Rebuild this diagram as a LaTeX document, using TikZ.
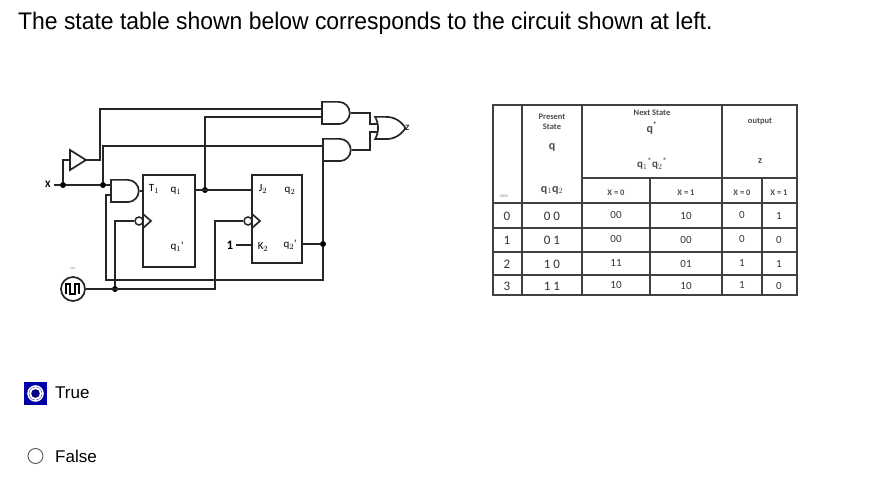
\documentclass[tikz,border=0pt]{standalone}
\usepackage{fontspec}
\setmainfont{Liberation Sans}
\newfontfamily\carl{Carlito}
\usetikzlibrary{shapes.gates.logic.US,calc}
\tikzset{w/.style={line width=1.7pt,draw=black!85},
 dot/.style={circle,fill=black,inner sep=0pt,minimum size=6pt},
 andg/.style={and gate US,draw=black!85,line width=1.7pt,minimum width=20pt,minimum height=22pt,inner sep=0pt,logic gate inputs=nn},
 org/.style={or gate US,draw=black!85,line width=1.7pt,minimum width=22pt,minimum height=22pt,inner sep=0pt,logic gate inputs=nn},
 lab/.style={font=\carl\fontsize{11}{12}\selectfont,inner sep=0pt},
 tl/.style={line width=2pt,draw=black!75},
 tx/.style={font=\carl\fontsize{11}{12}\selectfont,text=black!80,inner sep=0pt,align=center},
 tb/.style={font=\carl\bfseries\fontsize{8.5}{9.5}\selectfont,text=black!70,inner sep=0pt,align=center}}
\begin{document}
\begin{tikzpicture}[x=1pt,y=-1pt]
\useasboundingbox (0,0) rectangle (873,481);
\node[anchor=west,inner sep=0pt,font=\fontsize{24}{26}\selectfont,xscale=0.955] (title) at (18,23) {The state table shown below corresponds to the circuit shown at left.};
% gates
\node[andg] (a1) at (335,113) {};
\node[andg] (a2) at (336,150) {};
\node[org] (o1) at (388,128) {};
\node[lab,anchor=west] (z) at (405,128) {z};
\node[andg] (at) at (124,191) {};
\draw[w] (70,150) -- (70,170) -- (86,160) -- cycle;
\coordinate (bufin) at (70,160); \coordinate (bufout) at (86,160);
% FFs
\node[draw=black!85,line width=1.7pt,minimum width=52pt,minimum height=92pt,inner sep=0pt] (ff1) at (169,221) {};
\node[draw=black!85,line width=1.7pt,minimum width=50pt,minimum height=88pt,inner sep=0pt] (ff2) at (277,219) {};
\draw[w] (143,214) -- (151,221) -- (143,228);
\draw[w] (252,214) -- (260,221) -- (252,228);
\node[draw=black!85,line width=1.5pt,circle,inner sep=0pt,minimum size=8pt] (b1) at (139,221) {};
\node[draw=black!85,line width=1.5pt,circle,inner sep=0pt,minimum size=8pt] (b2) at (248,221) {};
\node[lab] (t1) at (154,189) {T$_1$};
\node[lab] (q1) at (176,191) {q$_1$};
\node[lab] (q1p) at (177,247) {q$_1$'};
\node[lab] (j2) at (263,189) {J$_2$};
\node[lab] (q2) at (290,191) {q$_2$};
\node[lab] (k2) at (263,247) {K$_2$};
\node[lab] (q2p) at (290,245) {q$_2$'};
\node[lab,font=\carl\bfseries\fontsize{13}{13}\selectfont] (one) at (230,245) {1};
\node[lab,font=\carl\bfseries\fontsize{10}{10}\selectfont] (xl) at (48,184) {X};
% clock source
\node[draw=black!85,line width=1.7pt,circle,minimum size=24pt,inner sep=0pt] (clk) at (73,289) {};
\draw[line width=1.4pt] (66,294) -- (66,284) -- (70,284) -- (70,294) -- (75,294) -- (75,284) -- (79,284) -- (79,294);
\node[font=\fontsize{3}{3}\selectfont,text=black!50] (hz) at (73,268) {5Hz};
% dots
\node[dot] (dx) at (63,185) {};
\node[dot] (dx2) at (103,185) {};
\node[dot] (dq1) at (205,190) {};
\node[dot] (dq2) at (323,244) {};
\node[dot] (dc) at (115,289) {};
% wires
\draw[w] (54,185) -- (dx) -- (dx2) -- (at.input 1 |- dx2);
\draw[w] (dx) -- (63,160) -- (bufin);
\draw[w] (bufout) -- (100,160) |- (a1.input 1);
\draw[w] (dx2) |- (a2.input 1);
\draw[w] (at.output) -- (143,191);
\draw[w] (at.input 2) -| (106,280) -- (323,280) -- (dq2);
\draw[w] (dq2) |- (a2.input 2);
\draw[w] (302,244) -- (dq2);
\draw[w] (195,190) -- (252,190);
\draw[w] (dq1) |- (a1.input 2);
\draw[w] (one.east) ++(3,0) -- (252,245);
\draw[w] (clk.east) -- (215,289) -- (215,221) -- (b2.west);
\draw[w] (dc) -- (115,221) -- (b1.west);
\draw[w] (a1.output) -- (370,113) |- (o1.input 1);
\draw[w] (a2.output) -- (370,150) |- (o1.input 2);
\draw[w] (o1.output) -- (z.west);
% table
\draw[tl] (493,105) rectangle (797,295);
\foreach \x in {522,582,722} \draw[tl] (\x,105) -- (\x,295);
\foreach \x in {650,762} \draw[tl] (\x,178) -- (\x,295);
\draw[tl] (582,178) -- (797,178);
\foreach \y in {203,228,252,275} \draw[tl] (493,\y) -- (797,\y);
\node[tb] (ps) at (552,122) {Present\\State};
\node[tb,font=\carl\bfseries\fontsize{12}{12}\selectfont] (qq) at (552,147) {q};
\node[tb,font=\carl\bfseries\fontsize{12}{12}\selectfont] (q12) at (552,190) {q$_1$q$_2$};
\node[tb,font=\carl\fontsize{5}{5}\selectfont,text=black!50] (row) at (504,196) {row};
\node[tb] (ns) at (652,113) {Next State};
\node[tb,font=\carl\bfseries\fontsize{12}{12}\selectfont] (qs) at (652,128) {q\textsuperscript{\bfseries *}};
\node[tb,font=\carl\bfseries\fontsize{11}{11}\selectfont] (q12s) at (652,164) {q$_1$\textsuperscript{*}q$_2$\textsuperscript{*}};
\node[tb] (out) at (760,121) {output};
\node[tb,font=\carl\bfseries\fontsize{10}{10}\selectfont] (zz) at (760,161) {z};
\node[tb] (h1) at (616,193) {X = 0};
\node[tb] (h2) at (686,193) {X = 1};
\node[tb] (h3) at (742,193) {X = 0};
\node[tb] (h4) at (779,193) {X = 1};
\foreach \r/\y/\p/\a/\b/\c/\d in {0/216/0 0/00/10/0/1, 1/240/0 1/00/00/0/0, 2/264/1 0/11/01/1/1, 3/286/1 1/10/10/1/0}{
 \node[tx,font=\carl\fontsize{13}{13}\selectfont] at (507,\y) {\r};
 \node[tx,font=\carl\fontsize{13}{13}\selectfont] at (552,\y) {\p};
 \node[tx] at (616,\y-1) {\a};
 \node[tx] at (686,\y) {\b};
 \node[tx] at (742,\y-1) {\c};
 \node[tx] at (779,\y) {\d};
}
% radio buttons
\fill[blue!65!black] (24,382) rectangle (47,405);
\draw[white,line width=1.5pt] (35.5,393.5) circle (7.5);
\fill[white] (35.5,393.5) circle (6.3);
\fill[blue!50!black] (35.5,393.5) circle (4.3);
\node[anchor=west,inner sep=0pt,font=\fontsize{17}{20}\selectfont] (tr) at (55,393) {True};
\draw[black!60,line width=1pt] (35.5,456) circle (7.5);
\node[anchor=west,inner sep=0pt,font=\fontsize{17}{20}\selectfont] (fa) at (55,456) {False};
\end{tikzpicture}
\end{document}
